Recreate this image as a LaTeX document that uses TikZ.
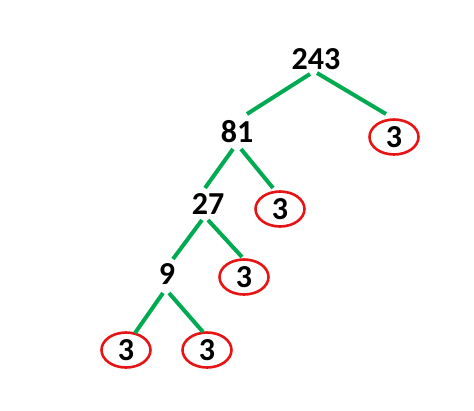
\documentclass[tikz,border=0pt]{standalone}
\usepackage{fontspec}
\setmainfont{Carlito}
\usetikzlibrary{shapes.geometric}
\definecolor{edgegreen}{RGB}{0,170,80}
\definecolor{ringred}{RGB}{230,20,20}
\begin{document}
\begin{tikzpicture}[x=1pt,y=-1pt,
  num/.style={font=\bfseries\fontsize{32}{32}\selectfont, inner sep=0pt},
  prime/.style={num, draw=ringred, line width=2.6pt, ellipse, minimum width=49pt, minimum height=35pt},
  branch/.style={draw=edgegreen, line width=4pt}]
\useasboundingbox (0,0) rectangle (474,410);
\node[num] (n243) at (316,59) {243};
\node[num] (n81) at (237,132) {81};
\node[num] (n27) at (208,204) {27};
\node[num] (n9) at (167,274) {9};
\node[prime] (p1) at (394,137) {3};
\node[prime] (p2) at (280,209) {3};
\node[prime] (p3) at (244,277) {3};
\node[prime] (p4) at (126,350) {3};
\node[prime] (p5) at (207,350) {3};
\draw[branch] ([shift={(-6,15)}]n243.center) -- ([shift={(10,-18)}]n81.center);
\draw[branch] ([shift={(1,14)}]n243.center) -- ([shift={(-8,-23)}]p1.center);
\draw[branch] ([shift={(-4,17)}]n81.center) -- ([shift={(-3,-16)}]n27.center);
\draw[branch] ([shift={(4,17)}]n81.center) -- ([shift={(-7,-21)}]p2.center);
\draw[branch] ([shift={(-6,16)}]n27.center) -- ([shift={(6,-15)}]n9.center);
\draw[branch] ([shift={(0,16)}]n27.center) -- ([shift={(-2,-20)}]p3.center);
\draw[branch] ([shift={(-4,19)}]n9.center) -- ([shift={(9,-17)}]p4.center);
\draw[branch] ([shift={(2,19)}]n9.center) -- ([shift={(-4,-18)}]p5.center);
\end{tikzpicture}
\end{document}
